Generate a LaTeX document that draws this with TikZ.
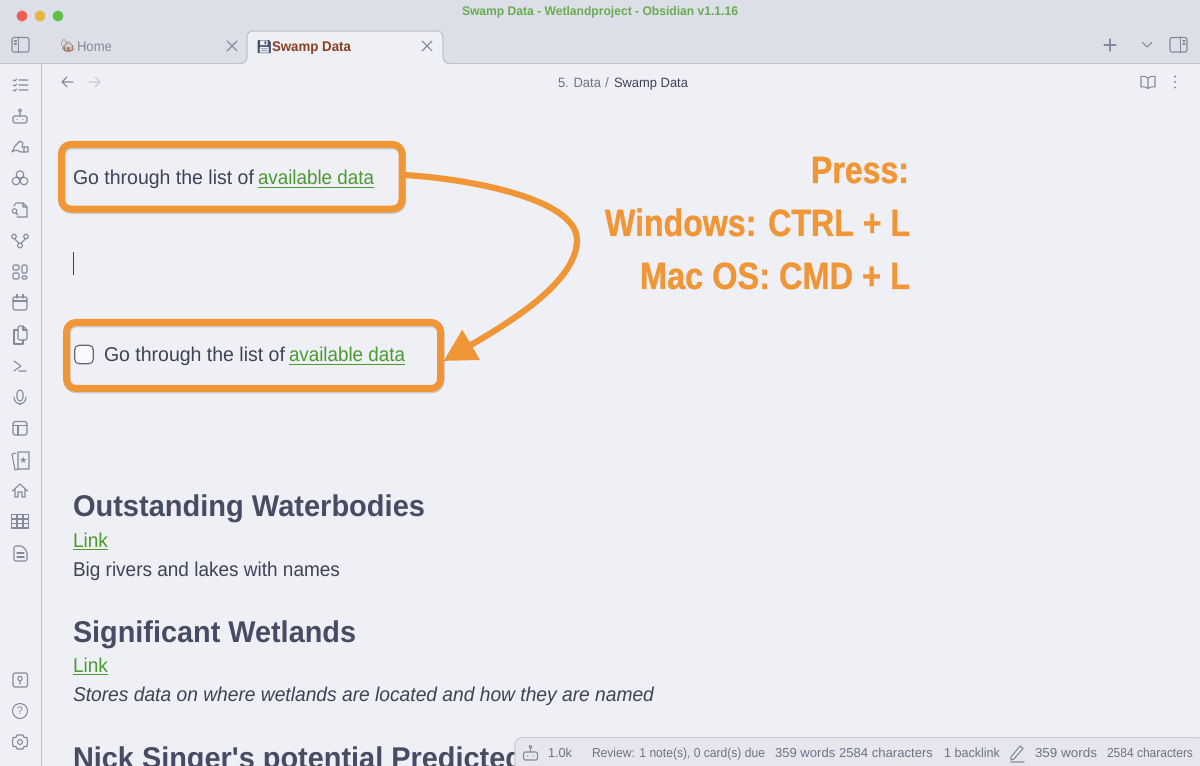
\documentclass[tikz,border=0pt]{standalone}
\usepackage{fontspec}
\usepackage{graphicx}
\usetikzlibrary{arrows.meta,calc}
\setmainfont{Liberation Sans}
\newfontfamily\plainfont{Liberation Sans}
\newfontfamily\emojifont{Noto Emoji}
\newfontfamily\symfont{DejaVu Sans}
\newfontfamily\condfont[FakeStretch=0.70,FakeBold=0.7]{Liberation Sans}
\newdimen\pxu \pxu=0.75pt
\newcommand\fw[2]{\resizebox{#1\pxu}{\height}{#2}}
\newcommand\fs[1]{\fontsize{#1\pxu}{#1\pxu}\selectfont}
\definecolor{winbg}{HTML}{EFF0F5}
\definecolor{barbg}{HTML}{DCDFE7}
\definecolor{sepc}{HTML}{BFC3CE}
\definecolor{iconc}{HTML}{868999}
\definecolor{bodyc}{HTML}{3F4257}
\definecolor{headc}{HTML}{474B63}
\definecolor{linkc}{HTML}{4B9A2F}
\definecolor{hlc}{HTML}{F09637}
\definecolor{titlec}{HTML}{6AAB50}
\definecolor{tabc}{HTML}{8A4022}
\definecolor{statc}{HTML}{6F7285}
\tikzset{
  txt/.style={inner sep=0pt,outer sep=0pt,anchor=base west},
  rtxt/.style={inner sep=0pt,outer sep=0pt,anchor=base east},
  ctxt/.style={inner sep=0pt,outer sep=0pt,anchor=base},
  icon/.style={draw=iconc,line width=0.8pt,line cap=round,line join=round},
  hlbox/.style={draw=hlc,line width=5.25pt,rounded corners=7pt,inner sep=0pt,outer sep=0pt,
     preaction={draw=black,draw opacity=.16,transform canvas={shift={(0.5pt,-1pt)}}}},
  hlarrow/.style={draw=hlc,line width=4.6pt,-{Triangle[length=24pt,width=25pt,fill=hlc]},
     preaction={draw=black,draw opacity=.14,transform canvas={shift={(0.5pt,-1pt)}}}},
  press/.style={rtxt,text=hlc,font=\condfont\bfseries\fs{38}},
  body/.style={txt,text=bodyc,font=\fs{20}},
  heading/.style={txt,text=headc,font=\bfseries\fs{30}},
  stat/.style={txt,text=statc,font=\fs{13}},
}
\begin{document}
\begin{tikzpicture}[x=0.75pt,y=-0.75pt]
\clip (0,0) rectangle (1200,766);
% window
\fill[winbg] (0,0) rectangle (1200,766);
\fill[barbg] (0,0) rectangle (1200,63);
\draw[sepc,line width=0.9pt] (0,63.5) -- (1200,63.5);
\draw[sepc,line width=0.8pt] (41.5,64) -- (41.5,766);
% active tab
\fill[winbg] (239,64) .. controls (245,64) and (247,61) .. (247,56) -- (247,38) .. controls (247,33) and (249,31) .. (254,31)
   -- (436,31) .. controls (441,31) and (443,33) .. (443,38) -- (443,56) .. controls (443,61) and (445,64) .. (451,64) -- cycle;
\draw[sepc,line width=0.9pt] (239,63.5) .. controls (245,63.5) and (247,61) .. (247,56) -- (247,38) .. controls (247,33) and (249,31) .. (254,31)
   -- (436,31) .. controls (441,31) and (443,33) .. (443,38) -- (443,56) .. controls (443,61) and (445,63.5) .. (451,63.5);
% traffic lights
\fill[color={rgb,255:red,236;green,95;blue,87}] (22,16) circle[radius=5.5];
\fill[color={rgb,255:red,233;green,180;blue,63}] (40,16) circle[radius=5.5];
\fill[color={rgb,255:red,94;green,194;blue,74}] (58,16) circle[radius=5.5];
% title bar text
\node[ctxt,text=titlec,font=\bfseries\fs{12.5}] (title) at (600,16) {\fw{276}{Swamp Data - Wetlandproject - Obsidian v1.1.16}};
\node[txt,text={rgb,255:red,150;green,100;blue,75},font=\emojifont\fs{12.5}] (homeicon) at (60,51) {🏡};
\node[txt,text=iconc,font=\fs{14}] (hometab) at (77,51.5) {\fw{35}{Home}};
\node[txt,text={rgb,255:red,65;green,80;blue,105},font=\emojifont\fs{13}] (savetab) at (256,51.5) {💾};
\node[txt,text=tabc,font=\bfseries\fs{14}] (swamptab) at (272,51.5) {\fw{79}{Swamp Data}};
% tab closers
\draw[icon] (227,41) -- (237,51) (237,41) -- (227,51);
\draw[icon] (422,41) -- (432,51) (432,41) -- (422,51);
% bar icons
\draw[icon,rounded corners=1.5pt] (12,37.5) rectangle (29,52);
\draw[icon] (18.5,37.5) -- (18.5,52) (14.5,41) -- (16.5,41) (14.5,44) -- (16.5,44);
\draw[icon] (1104,45) -- (1116,45) (1110,39) -- (1110,51);
\draw[icon] (1142.5,42.5) -- (1147,47) -- (1151.5,42.5);
\draw[icon,rounded corners=1.5pt] (1170,37.5) rectangle (1187,52);
\draw[icon] (1180.5,37.5) -- (1180.5,52) (1183,41) -- (1185,41) (1183,44) -- (1185,44);
% nav
\draw[icon] (73,82) -- (62,82) (67,77) -- (62,82) -- (67,87);
\draw[icon,draw=iconc!45] (89,82) -- (100,82) (95,77) -- (100,82) -- (95,87);
\node[txt,text=statc,font=\fs{13.5}] (crumb1) at (558,88) {\fw{43}{5. Data}};
\node[txt,text=statc,font=\fs{13.5}] (crumbsep) at (605,88) {/};
\node[txt,text=bodyc,font=\fs{13.5}] (crumb2) at (614,88) {\fw{74}{Swamp Data}};
\draw[icon] (1148,78) .. controls (1145,76) and (1143,76) .. (1141,76.5) -- (1141,87) .. controls (1143,86.5) and (1145,86.5) .. (1148,88.5) .. controls (1151,86.5) and (1153,86.5) .. (1155,87) -- (1155,76.5) .. controls (1153,76) and (1151,76) .. (1148,78) -- (1148,88.5);
\fill[iconc] (1175,76.5) circle[radius=1.2] (1175,82) circle[radius=1.2] (1175,87.5) circle[radius=1.2];
% sidebar icons
\draw[icon] (19,80) -- (28,80) (19,85) -- (28,85) (19,90) -- (28,90) (13,80) -- (15,81) -- (16.5,79) (13,85) -- (15,86) -- (16.5,84) (13,90) -- (15,91) -- (16.5,89);
\draw[icon,rounded corners=1pt] (13,116) rectangle (27,123); \draw[icon] (20,116) -- (20,112) (20,110.5) circle[radius=1.6] (17,119.5) -- (17.1,119.5) (23,119.5) -- (23.1,119.5);
\draw[icon] (12,152) -- (15,146) -- (20,141) -- (23,143) -- (22,147) -- (28,147) -- (28,152) -- (21,152) -- (16,150) -- cycle (24,147) -- (24,152);
\draw[icon] (20,174.5) circle[radius=3.8] (16,181) circle[radius=3.8] (24,181) circle[radius=3.8];
\draw[icon] (16,203) -- (23,203) -- (27,207) -- (27,217) -- (17,217) (23,203) -- (23,207) -- (27,207) (16,203) -- (14,206) (14.5,211) circle[radius=2.3] (16,213) -- (18,215);
\draw[icon] (14,236.5) circle[radius=2.3] (26,236.5) circle[radius=2.3] (20,245.5) circle[radius=2.5] (14.5,239) -- (19,243) (25.5,239) -- (21,243);
\draw[icon,rounded corners=0.8pt] (13,265) rectangle (19,270) (22,265) rectangle (27,273) (13,273) rectangle (19,279) (22,276) rectangle (27,279);
\draw[icon,rounded corners=1pt] (13,297) rectangle (27,310); \draw[icon] (13,301) -- (27,301) (17,294.5) -- (17,298) (23,294.5) -- (23,298);
\draw[icon,rounded corners=1pt] (18,326) -- (23,326) -- (27,330) -- (27,340) -- (18,340) -- cycle; \draw[icon] (23,326) -- (23,330) -- (27,330) (18,330) -- (14,330) -- (14,344) -- (23,344) -- (23,340);
\draw[icon] (14,361) -- (21,366) -- (14,371) (19,371) -- (26,371);
\draw[icon,rounded corners=2.5pt] (17,390) rectangle (23,401); \draw[icon] (14,397) .. controls (14,406) and (26,406) .. (26,397) (20,403.5) -- (20,405);
\draw[icon,rounded corners=1pt] (13,421.5) rectangle (27,435); \draw[icon] (13,425.5) -- (27,425.5) (18,425.5) -- (18,435);
\draw[icon] (16,453) -- (12,454) -- (15,470) -- (19,469) (18,452) rectangle (29,469);
\node[inner sep=0pt,text=iconc,font=\symfont\fs{9}] (staricon) at (23.5,460.5) {★};
\draw[icon] (12.5,491) -- (20,484) -- (27.5,491) (15,489) -- (15,497) -- (18,497) -- (18,492) -- (22,492) -- (22,497) -- (25,497) -- (25,489);
\draw[icon] (11.5,514.5) rectangle (28.5,528) (11.5,519) -- (28.5,519) (11.5,523.5) -- (28.5,523.5) (17,514.5) -- (17,528) (23,514.5) -- (23,528);
\draw[icon,rounded corners=1pt] (14,546) -- (22,546) -- (27,551) -- (27,561) -- (14,561) -- cycle; \draw[icon] (17,553) -- (24,553) (17,557) -- (24,557);
\draw[icon,rounded corners=1pt] (13,673) rectangle (27.5,687); \draw[icon] (20,678.5) circle[radius=2.2] (20,680.7) -- (20,684);
\draw[icon] (20,711) circle[radius=7.5];
\node[inner sep=0pt,text=iconc,font=\fs{11}] (helpicon) at (20,711) {?};
\draw[icon] (20,742) circle[radius=2.5];
\draw[icon,line join=round] (17,735) -- (23,735) -- (24,737.5) -- (27,737.5) -- (27.5,742) -- (27,746.5) -- (24,746.5) -- (23,749) -- (17,749) -- (16,746.5) -- (13,746.5) -- (12.5,742) -- (13,737.5) -- (16,737.5) -- cycle;
% note text
\node[body] (t1) at (73,185) {\fw{181}{Go through the list of}};
\node[body,text=linkc] (l1) at (258,185) {\fw{116}{\underline{available data}}};
\draw[color=bodyc,line width=0.7pt] (73.5,252) -- (73.5,275);
\node[draw=bodyc!80,line width=0.9pt,rounded corners=3.5pt,minimum width=14pt,minimum height=14pt,inner sep=0pt,outer sep=0pt,fill=white!60!winbg] (chk) at (84,354.5) {};
\node[body] (t2) at (104,362) {\fw{181}{Go through the list of}};
\node[body,text=linkc] (l2) at (289,362) {\fw{116}{\underline{available data}}};
% highlight boxes
\node[hlbox,minimum width=255.4pt,minimum height=48.4pt] (box1) at (231.75,176.75) {};
\node[hlbox,minimum width=280.5pt,minimum height=49.5pt] (box2) at (253.5,355.5) {};
% arrow
\draw[hlarrow] ($(box1.east)+(-2,-2)$) .. controls (465,178) and (577,198) .. (577,240) .. controls (577,283) and (505,325) .. ($(box2.east)+(3,5.5)$);
% press
\node[press] (p1) at (909,183) {\fw{98}{Press:}};
\node[press] (p2) at (910,236) {\fw{305}{Windows: CTRL + L}};
\node[press] (p3) at (910,289) {\fw{270}{Mac OS: CMD + L}};
% sections
\node[heading] (h1) at (73,517) {\fw{352}{Outstanding Waterbodies}};
\node[body,text=linkc] (k1) at (73,547) {\fw{35}{\underline{Link}}};
\node[body] (d1) at (73,576) {\fw{267}{Big rivers and lakes with names}};
\node[heading] (h2) at (73,642) {\fw{283}{Significant Wetlands}};
\node[body,text=linkc] (k2) at (73,672) {\fw{35}{\underline{Link}}};
\node[body,font=\itshape\fs{20}] (d2) at (73,701) {\fw{581}{Stores data on where wetlands are located and how they are named}};
\node[heading] (h3) at (73,768) {\fw{450}{Nick Singer{\plainfont '}s potential Predicted}};
% status bar
\draw[fill=barbg!50!winbg,draw=sepc!80!winbg,line width=0.8pt,rounded corners=5pt] (515,770) -- (515,737.5) -- (1204,737.5) -- (1204,770);
\draw[icon,rounded corners=1pt] (523.5,752) rectangle (537.5,760); \draw[icon] (530.5,752) -- (530.5,748.5) (530.5,746.8) circle[radius=1.5] (527.5,756) -- (527.6,756) (533.5,756) -- (533.6,756);
\node[stat] (s1) at (548,757) {\fw{24}{1.0k}};
\node[stat] (s2) at (592,757) {\fw{173}{Review: 1 note(s), 0 card(s) due}};
\node[stat] (s3) at (775,757) {\fw{158}{359 words 2584 characters}};
\node[stat] (s4) at (944,757) {\fw{56}{1 backlink}};
\draw[icon] (1011,757) -- (1020,746) -- (1023,748.5) -- (1014,759) -- (1011,760) -- cycle (1011,762) -- (1024,762);
\node[stat] (s5) at (1035,757) {\fw{62}{359 words}};
\node[stat] (s6) at (1107,757) {\fw{86}{2584 characters}};
\end{tikzpicture}
\end{document}
